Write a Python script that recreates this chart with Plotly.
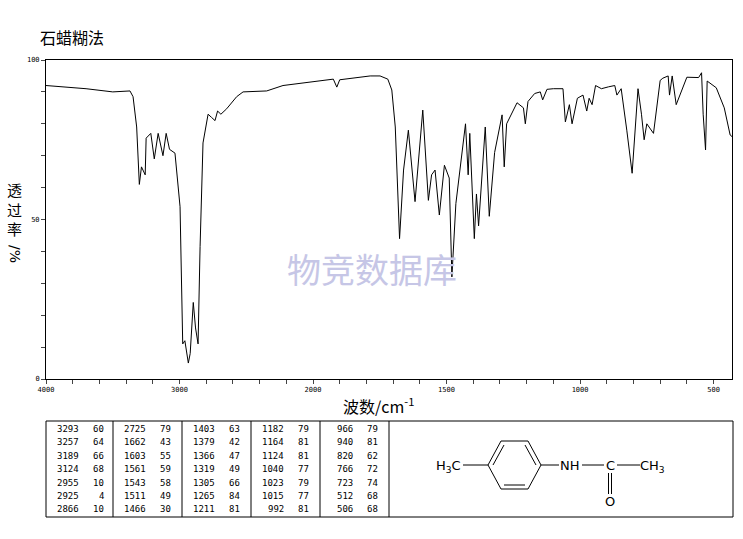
import plotly.graph_objects as go

# IR spectrum (wavenumber cm-1, transmittance %)
wavenumber = [4000, 3700, 3500, 3371, 3348, 3321, 3301, 3285, 3257, 3250, 3215, 3189, 3160, 3124, 3100,
              3075, 3034, 2996, 2976, 2960, 2934, 2920, 2897, 2880, 2861, 2846, 2824, 2786, 2760,
              2734, 2715, 2690, 2647, 2572, 2524, 2347, 2225, 1950, 1924, 1911, 1900, 1786, 1749,
              1720, 1705, 1692, 1676, 1661, 1643, 1618, 1589, 1568, 1556, 1543, 1527, 1508, 1490,
              1480, 1465, 1429, 1419, 1413, 1396, 1388, 1380, 1355, 1340, 1320, 1292, 1284, 1275,
              1236, 1212, 1205, 1195, 1170, 1149, 1140, 1124, 1100, 1064, 1055, 1040, 1030, 1010,
              989, 975, 966, 955, 942, 920, 893, 870, 862, 846, 825, 805, 783, 770, 760, 750,
              725, 700, 690, 670, 665, 655, 640, 600, 556, 545, 539, 530, 524, 490, 460, 438, 431]
transmittance = [92, 91, 90, 90.3, 88.5, 79, 61, 66.5, 64, 75.5, 77, 69, 77, 70, 77,
                 72, 70.8, 54, 11, 12, 5, 8, 24, 16, 11, 41.5, 74, 83, 82,
                 81, 84, 83, 84.7, 88.5, 90, 90.3, 92, 93.8, 94, 91.5, 93.8, 95, 95,
                 94, 90.6, 79, 44, 65.5, 78, 55.6, 84.3, 56, 64, 65.5, 51.4, 67, 63,
                 32, 55, 80, 64, 77, 44, 58, 48, 79, 51, 71, 82.8, 66.5, 80,
                 86.6, 85, 80, 87, 89.5, 90, 87.5, 90.8, 91, 91, 80.6, 86, 80, 88,
                 89, 84, 88, 86, 92, 91, 91.6, 92, 89, 91, 78, 64.5, 91, 83,
                 75, 80, 77, 93.6, 94.3, 95, 89, 95, 86, 94.6, 94.5, 96, 83,
                 71.8, 93.4, 91.3, 85, 76.5, 76]

x_tick_labels = [4000, 3000, 2000, 1500, 1000, 500]

# peak table (wavenumber, intensity), five columns
table_cols = [
    [(3293, 60), (3257, 64), (3189, 66), (3124, 68), (2955, 10), (2925, 4), (2866, 10)],
    [(2725, 79), (1662, 43), (1603, 55), (1561, 59), (1543, 58), (1511, 49), (1466, 30)],
    [(1403, 63), (1379, 42), (1366, 47), (1319, 49), (1305, 66), (1265, 84), (1211, 81)],
    [(1182, 79), (1164, 81), (1124, 81), (1040, 77), (1023, 79), (1015, 77), (992, 81)],
    [(966, 79), (940, 81), (820, 62), (766, 72), (723, 74), (512, 68), (506, 68)],
]

W, H = 743, 539


def to_u(w):
    # split scale: 1000 cm-1 per unit above 2000, 500 cm-1 per unit below
    return (4000 - w) / 1000 if w >= 2000 else 2 + (2000 - w) / 500


def px(x):
    return x / W


def py(y):
    return 1 - y / H


fig = go.Figure(go.Scatter(x=[to_u(w) for w in wavenumber], y=transmittance, mode='lines',
                           line=dict(color='black', width=1), hoverinfo='skip'))

minor = list(range(4000, 2000, -200)) + list(range(2000, 400, -100))
tickvals = [to_u(w) for w in minor]
ticktext = [str(w) if w in x_tick_labels else '' for w in minor]

fig.update_layout(
    width=W, height=H, margin=dict(l=0, r=0, t=0, b=0, autoexpand=False),
    paper_bgcolor='white', plot_bgcolor='white', showlegend=False,
    font=dict(family='DejaVu Sans Mono', color='black'),
    xaxis=dict(domain=[px(46), px(732)], range=[0, to_u(431)], tickvals=tickvals, ticktext=ticktext,
               ticks='outside', ticklen=4, tickfont=dict(size=7), showgrid=False, zeroline=False,
               automargin=False, showline=True, linecolor='black', linewidth=1, mirror=True),
    yaxis=dict(domain=[py(379), py(60)], range=[0, 100], tickvals=list(range(0, 101, 10)),
               ticktext=['0', '', '', '', '', '50', '', '', '', '', '100'],
               ticks='outside', ticklen=4, tickfont=dict(size=7), showgrid=False, zeroline=False,
               automargin=False, showline=True, linecolor='black', linewidth=1, mirror=True),
)

ann = [
    dict(x=px(38), y=py(37), text='石蜡糊法', xanchor='left', font=dict(size=16, family='Noto Sans CJK SC')),
    dict(x=px(372), y=py(268), text='物竞数据库', font=dict(size=34, color='#c6c6e6', family='Noto Sans CJK SC')),
    dict(x=px(378), y=py(405), text='波数/cm<sup>-1</sup>', font=dict(size=16, family='Noto Sans CJK SC')),
    dict(x=px(15), y=py(209), text='透<br>过<br>率', font=dict(size=15, family='Noto Sans CJK SC')),
    dict(x=px(15), y=py(254), text='/%', textangle=90, font=dict(size=14, family='DejaVu Sans')),
]

line = dict(color='black', width=1)
shapes = [dict(type='rect', x0=px(46), x1=px(733), y0=py(421), y1=py(517), line=line)]
col_x = [46, 113, 182, 251, 320, 389]
for cx in col_x[1:]:
    shapes.append(dict(type='line', x0=px(cx), x1=px(cx), y0=py(421), y1=py(517), line=line))

for ci, col in enumerate(table_cols):
    for ri, (w, t) in enumerate(col):
        yy = py(429 + ri * 13.4)
        ann.append(dict(x=px(col_x[ci] + 35), y=yy, text=str(w), xanchor='right', font=dict(size=9)))
        ann.append(dict(x=px(col_x[ci] + 60), y=yy, text=str(t), xanchor='right', font=dict(size=9)))

# structure: 4-methylacetanilide
ring = [(488, 465), (501, 441), (528, 441), (541, 465), (528, 489), (501, 489)]
for i in range(6):
    a, b = ring[i], ring[(i + 1) % 6]
    shapes.append(dict(type='line', x0=px(a[0]), y0=py(a[1]), x1=px(b[0]), y1=py(b[1]), line=line))
for a, b in [((493, 465), (504, 445)), ((536, 465), (525, 445)), ((504, 485), (525, 485))]:
    shapes.append(dict(type='line', x0=px(a[0]), y0=py(a[1]), x1=px(b[0]), y1=py(b[1]), line=line))
for x0, x1 in [(463, 488), (541, 559), (582, 604), (617, 640)]:
    shapes.append(dict(type='line', x0=px(x0), x1=px(x1), y0=py(465), y1=py(465), line=line))
for dx in (-1.5, 1.5):
    shapes.append(dict(type='line', x0=px(610 + dx), x1=px(610 + dx), y0=py(473), y1=py(494), line=line))
for s in shapes:
    s.update(xref='paper', yref='paper')

for x, y, t in [(448, 466, 'H<sub>3</sub>C'), (570, 465, 'NH'), (610, 465, 'C'), (652, 466, 'CH<sub>3</sub>'), (610, 501, 'O')]:
    ann.append(dict(x=px(x), y=py(y), text=t, font=dict(size=13, family='DejaVu Sans')))

for a in ann:
    a.setdefault('xanchor', 'center')
    a.update(xref='paper', yref='paper', yanchor='middle', showarrow=False)
fig.update_layout(annotations=ann, shapes=shapes)

fig.write_html("out.html", config={'displayModeBar': False},
               post_script="document.body.style.margin='0';")
